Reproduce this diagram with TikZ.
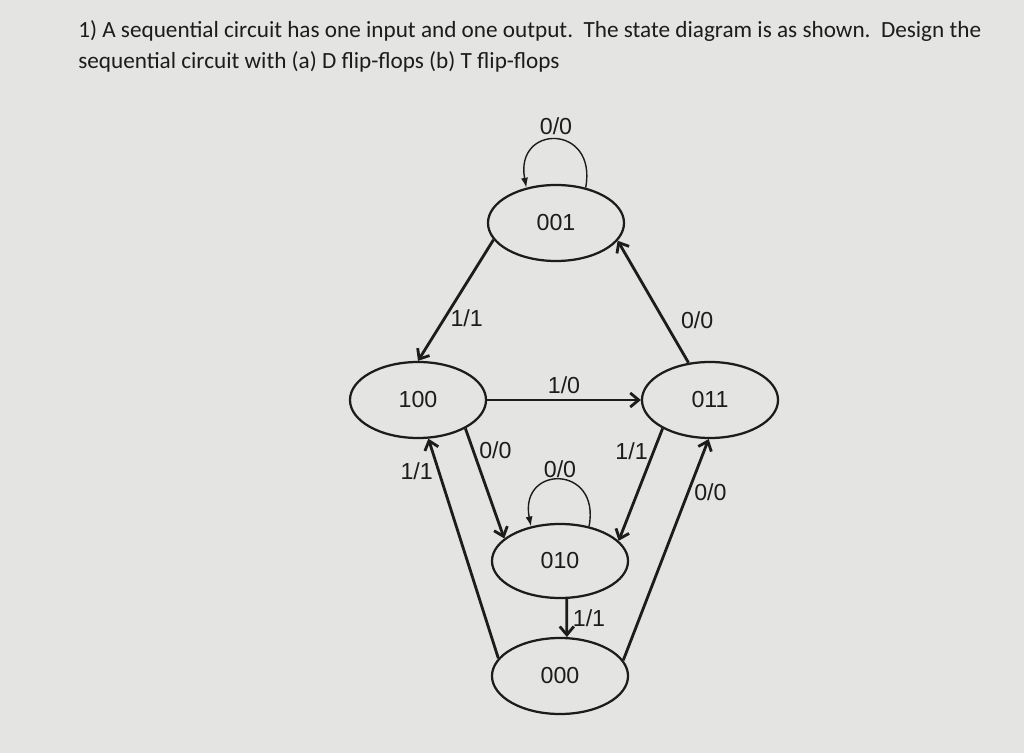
\documentclass[tikz,border=0pt]{standalone}
\usepackage{fontspec}
\setmainfont{Carlito}
\newfontfamily\arialfont{Liberation Sans}
\usetikzlibrary{arrows,arrows.meta,shapes.geometric}
\definecolor{screen}{RGB}{228,228,226}
\definecolor{ink}{RGB}{28,28,28}
\tikzset{
  state/.style={ellipse,draw=ink,line width=1.6pt,minimum width=3.4cm,minimum height=1.9cm,
    font=\arialfont\fontsize{16.5}{18}\selectfont,text=ink},
  trans/.style={draw=ink,line width=2pt,-{Straight Barb[length=6pt,width=10pt]},
    font=\arialfont\fontsize{16.5}{18}\selectfont,text=ink},
  selfloop/.style={draw=ink,line width=1pt,-{Latex[length=7pt,width=5pt]},
    font=\arialfont\fontsize{16.5}{18}\selectfont,text=ink},
  question/.style={anchor=base west,inner sep=0pt,text=ink,font=\fontsize{16.5}{18}\selectfont}
}
\begin{document}
\begin{tikzpicture}[x=0.025cm,y=-0.025cm]
\fill [screen] (0,0) rectangle (1024,753);
\useasboundingbox (0,0) rectangle (1024,753);
\node (q1) at (78,38) [question] {1) A sequential circuit has one input and one output.\ \ The state diagram is as shown.\ \ Design the};
\node (q2) at (78,69) [question] {sequential circuit with (a) D flip-flops (b) T flip-flops};
\node (s001) at (556,223) [state] {001};
\node (s100) at (418,400) [state] {100};
\node (s011) at (710,400) [state] {011};
\node (s010) at (560,561) [state,minimum height=1.85cm] {010};
\node (s000) at (560,676) [state] {000};
\draw [selfloop] (s001.50) .. controls +(12,-64) and +(-12,-64) .. node [above] {0/0} (s001.130);
\draw [selfloop] (s010.50) .. controls +(12,-62) and +(-12,-62) .. node [above,inner sep=1pt] {0/0} (s010.130);
\draw [trans] (s001.195) to node [pos=.65,right] {1/1} (s100.north);
\draw [trans] (s011.120) to node [pos=.35,right=8pt] {0/0} (s001.344);
\draw [trans] (s100.east) to node [above] {1/0} (s011.west);
\draw [trans] (s100.329) to node [pos=.2,right] {0/0} (s010.158);
\draw [trans] (s011.211) to node [pos=.2,left] {1/1} (s010.19);
\draw [trans] (s010.-80) to node [right] {1/1} (s000.80);
\draw [trans] (s000.164) to node [pos=.85,left] {1/1} (s100.285);
\draw [trans] (s000.14) to node [pos=.76,right] {0/0} (s011.268);
\end{tikzpicture}
\end{document}
